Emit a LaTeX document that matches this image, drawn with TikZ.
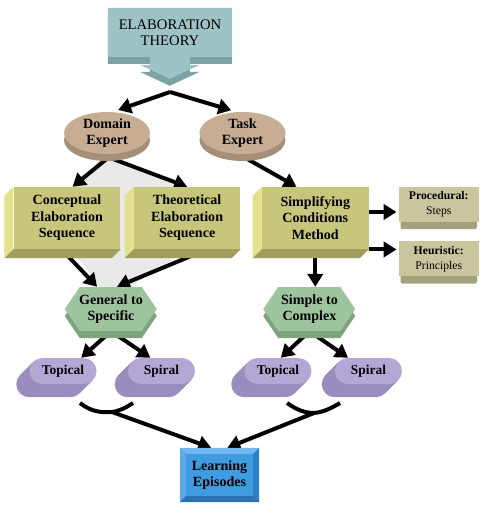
\documentclass[tikz,border=0pt]{standalone}
\usepackage{fontspec}
\setmainfont{Liberation Serif}
\usepackage{xcolor}
\usepackage{tikz}
\usetikzlibrary{positioning, arrows.meta, shapes.geometric, calc}

\definecolor{theoryface}{HTML}{9DC3C5}
\definecolor{theorydark}{HTML}{7BA2A4}
\definecolor{expertface}{HTML}{C6AD94}
\definecolor{expertdark}{HTML}{A68F78}
\definecolor{seqface}{HTML}{C8C67A}
\definecolor{seqleft}{HTML}{E3E18E}
\definecolor{seqbottom}{HTML}{A09E5C}
\definecolor{kindface}{HTML}{C9C59E}
\definecolor{kinddark}{HTML}{A3A07E}
\definecolor{orderface}{HTML}{9EC49E}
\definecolor{orderdark}{HTML}{7EA47E}
\definecolor{strandface}{HTML}{B5A7D5}
\definecolor{stranddark}{HTML}{9A8CBC}
\definecolor{episodeface}{HTML}{3F9CE0}
\definecolor{episodetop}{HTML}{72B8EE}
\definecolor{episodeleft}{HTML}{5AAAE8}
\definecolor{episoderight}{HTML}{2D80C6}
\definecolor{episodebottom}{HTML}{2A72B4}
\definecolor{funnel}{HTML}{E9E9E9}

\pgfdeclarelayer{shadow}
\pgfdeclarelayer{links}
\pgfdeclarelayer{solid}
\pgfsetlayers{shadow,links,solid,main}

\begin{document}
\begin{tikzpicture}[
    x=0.03cm, y=-0.03cm,
    title/.style={
        rectangle,
        align=center,
        minimum width=3.72cm,
        minimum height=1.47cm,
        font=\fontsize{12.5}{14}\selectfont
    },
    expert/.style={
        ellipse,
        fill=expertface,
        align=center,
        inner sep=0pt,
        minimum width=2.58cm,
        minimum height=1.26cm,
        font=\bfseries\fontsize{12}{14}\selectfont
    },
    seq/.style={
        rectangle,
        fill=seqface,
        align=center,
        minimum width=3.2cm,
        minimum height=1.86cm,
        font=\bfseries\fontsize{12}{14}\selectfont
    },
    kind/.style={
        rectangle,
        fill=kindface,
        align=center,
        minimum width=2.4cm,
        minimum height=1.05cm,
        font=\fontsize{10}{12.5}\selectfont
    },
    order/.style={
        rectangle,
        align=center,
        minimum width=2.76cm,
        minimum height=1.32cm,
        font=\bfseries\fontsize{12}{14}\selectfont
    },
    strand/.style={
        rectangle,
        rounded corners=0.39cm,
        fill=strandface,
        minimum width=2.01cm,
        minimum height=0.78cm,
        font=\bfseries\fontsize{11.5}{13}\selectfont
    },
    episode/.style={
        rectangle,
        fill=episodeface,
        align=center,
        minimum width=2.37cm,
        minimum height=1.62cm,
        font=\bfseries\fontsize{12}{14}\selectfont
    },
    arrow/.style={
        line width=3.4pt,
        -{Triangle[length=11pt,width=13pt]}
    },
    brace/.style={
        line width=3.4pt
    }
]
\useasboundingbox (0,0) rectangle (489,517);

% Title
\node[title] (theory) at (170,32.5) {ELABORATION\\THEORY};
\coordinate (split) at (170,92);

% Experts
\node[expert] (domain) at (107,133) {Domain\\Expert};
\node[expert, right=1.47cm of domain] (task) {Task\\Expert};

% Sequences
\node[seq] (concept) at (67,218) {Conceptual\\Elaboration\\Sequence};
\node[seq, right=0.39cm of concept] (theoret) {Theoretical\\Elaboration\\Sequence};
\node[seq, right=0.63cm of theoret] (simp) {Simplifying\\Conditions\\Method};

% Kinds of simplifying conditions
\node[kind, right=0.89cm of simp.north east, anchor=north west] (proc) {\textbf{Procedural:}\\Steps};
\node[kind, below=0.57cm of proc] (heur) {\textbf{Heuristic:}\\Principles};
\coordinate (procin) at ($(proc.west)+(-2,7.5)$);
\coordinate (heurin) at ($(heur.west)+(-2,-9.5)$);

% Orders
\node[order] (general) at (111,309) {General to\\Specific};
\node[order, right=3.18cm of general] (simple) {Simple to\\Complex};

% Strands
\node[strand] (top1) at (63,371) {Topical};
\node[strand, right=0.93cm of top1] (spir1) {Spiral};
\node[strand] (top2) at (278,371) {Topical};
\node[strand, right=0.69cm of top2] (spir2) {Spiral};

% Result
\node[episode] (learn) at (219.5,475) {Learning\\Episodes};

% Braces
\coordinate (lbl) at (80,403);
\coordinate (lbm) at (112,412);
\coordinate (lbr) at (133,403);
\coordinate (rbl) at (287,403);
\coordinate (rbm) at (314,413);
\coordinate (rbr) at (340,403);

% Shaded funnel
\begin{pgfonlayer}{shadow}
\fill[funnel] (100,160) -- (115,160) -- (178,186) -- (175,258) -- (130,287)
    -- (100,287) -- (78,258) -- (76,187) -- cycle;
\end{pgfonlayer}

% Arrows
\begin{pgfonlayer}{links}
\draw[arrow, shorten >=5pt] (split) -- (domain.75);
\draw[arrow, shorten >=5pt] (split) -- (task.105);
\draw[arrow] (domain.-75) -- (concept.80);
\draw[arrow] (domain.-110) -- (theoret.north);
\draw[arrow] (task.-100) -- (simp.121);
\draw[arrow] (simp.east |- procin) -- (procin);
\draw[arrow] (simp.east |- heurin) -- (heurin);
\draw[arrow] (concept.-100) -- (general.122);
\draw[arrow] (theoret.-57) -- (general.75);
\draw[arrow] (simp.south) -- (simp.south |- simple.north);
\draw[arrow] (general.south) -- (top1.36);
\draw[arrow] (general.south) -- (spir1.130);
\draw[arrow] (simple.south) -- (top2.78);
\draw[arrow] (simple.south) -- (spir2.147);

\draw[brace] (lbl) .. controls (90,411) and (100,413) .. (lbm)
    .. controls (120,411) and (127,407) .. (lbr);
\draw[brace] (rbl) .. controls (297,410) and (305,413) .. (rbm)
    .. controls (325,412) and (333,407) .. (rbr);
\draw[arrow] (lbm) -- (learn.107);
\draw[arrow] (rbm) -- (learn.74);
\end{pgfonlayer}

% 3D parts
\begin{pgfonlayer}{solid}
\foreach \s/\c in {7/theorydark, 0/theoryface}
  \fill[\c] ($(theory.north west)+(0,\s)$) -- ++(124,0) -- ++(0,49) -- ++(-42,0)
      -- ++(0,8) -- ++(10,0) -- ++(-30,14) -- ++(-30,-14) -- ++(10,0)
      -- ++(0,-8) -- ++(-42,0) -- cycle;

\foreach \n in {domain, task}
  \fill[expertdark] ($(\n.center)+(0,7)$) ellipse [x radius=43, y radius=21];

\foreach \n in {concept, theoret, simp} {
  \fill[seqleft] (\n.north west) -- ++(-9,9) -- ($(\n.south west)+(-9,9)$) -- (\n.south west) -- cycle;
  \fill[seqbottom] (\n.south west) -- ++(-9,9) -- ($(\n.south east)+(-9,9)$) -- (\n.south east) -- cycle;
}

\foreach \n in {proc, heur}
  \fill[kinddark, rounded corners=2pt] ($(\n.south west)+(2,-6)$) rectangle ($(\n.south east)+(-2,7)$);

\foreach \n in {general, simple}
  \foreach \s/\c in {7/orderdark, 0/orderface}
    \fill[\c] ($(\n.west)+(0,\s)$) -- ++(15,-22) -- ++(62,0) -- ++(15,22)
        -- ++(-15,22) -- ++(-62,0) -- cycle;

\foreach \n in {top1, spir1, top2, spir2}
  \foreach \s in {13,...,1}
    \fill[stranddark, rounded corners=0.39cm] ($(\n.south west)+(-\s,\s)$) rectangle ++(67,-26);
\end{pgfonlayer}

% Bevel of the result
\fill[episodetop] (learn.north west) -- (learn.north east) -- ++(-6,6) -- ($(learn.north west)+(6,6)$) -- cycle;
\fill[episodeleft] (learn.north west) -- ++(6,6) -- ($(learn.south west)+(6,-6)$) -- (learn.south west) -- cycle;
\fill[episoderight] (learn.north east) -- ++(-6,6) -- ($(learn.south east)+(-6,-6)$) -- (learn.south east) -- cycle;
\fill[episodebottom] (learn.south west) -- ++(6,-6) -- ($(learn.south east)+(-6,-6)$) -- (learn.south east) -- cycle;

\end{tikzpicture}
\end{document}
